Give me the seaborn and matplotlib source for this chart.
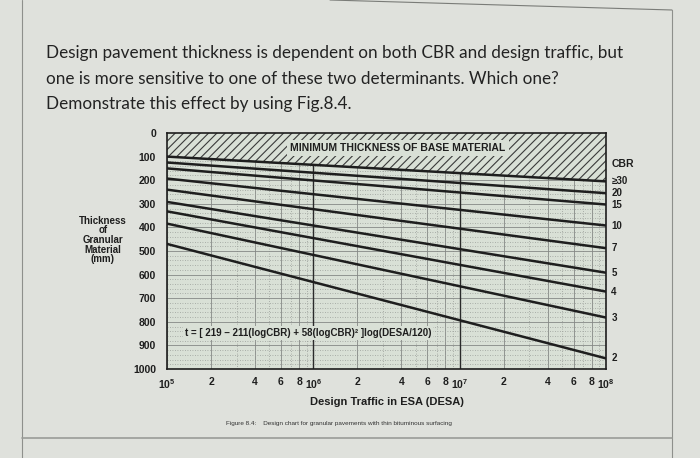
import numpy as np
import pandas as pd
import matplotlib.pyplot as plt
import matplotlib.transforms as mtransforms
from matplotlib.lines import Line2D
from matplotlib.ticker import FixedLocator, MultipleLocator, NullFormatter
import seaborn as sns

# thickness (mm) of each CBR line, read at the two ends of the chart
cbr_labels = ['≥30', '20', '15', '10', '7', '5', '4', '3', '2']
t_at_1e5 = [100, 125, 150, 193, 240, 292, 332, 384, 470]
t_at_1e8 = [205, 255, 303, 392, 488, 592, 672, 782, 955]
desa_ends = [1e5, 1e8]

y_ticks = [0, 100, 200, 300, 400, 500, 600, 700, 800, 900, 1000]
x_ticks = [1e5, 2e5, 4e5, 6e5, 8e5, 1e6, 2e6, 4e6, 6e6, 8e6, 1e7, 2e7, 4e7, 6e7, 8e7, 1e8]
x_tick_labels = ['$\\mathbf{10^5}$', '2', '4', '6', '8', '$\\mathbf{10^6}$', '2', '4', '6', '8',
                 '$\\mathbf{10^7}$', '2', '4', '6', '8', '$\\mathbf{10^8}$']
x_minor = [3e5, 5e5, 7e5, 9e5, 3e6, 5e6, 7e6, 9e6, 3e7, 5e7, 7e7, 9e7]
decades = [1e6, 1e7]

rows = []
for lab, a, b in zip(cbr_labels, t_at_1e5, t_at_1e8):
    rows.append({'DESA': desa_ends[0], 't': a, 'CBR': lab})
    rows.append({'DESA': desa_ends[1], 't': b, 'CBR': lab})
df = pd.DataFrame(rows)

sns.set_theme(style='white')
plt.rcParams['font.family'] = ['Liberation Sans', 'DejaVu Sans']
plt.rcParams['mathtext.fontset'] = 'custom'
plt.rcParams['mathtext.rm'] = 'Liberation Sans'
plt.rcParams['mathtext.bf'] = 'Liberation Sans:bold'
plt.rcParams['hatch.linewidth'] = 0.8

page = '#dfe1dc'
plot_bg = '#d9e0d6'
ink = '#1e1e1e'

fig = plt.figure(figsize=(7, 4.58), dpi=100, facecolor=page)
ax = fig.add_axes([167 / 700, 1 - 369 / 458, (606 - 167) / 700, (369 - 133) / 458])
ax.set_facecolor(plot_bg)

# hatched zone above the CBR>=30 line (covers the grid)
ax.fill_between(desa_ends, 0, [t_at_1e5[0], t_at_1e8[0]], facecolor=plot_bg,
                edgecolor='#3a3a3a', hatch='////', lw=0, zorder=3)

sns.lineplot(data=df, x='DESA', y='t', units='CBR', estimator=None,
             color=ink, lw=1.8, ax=ax, legend=False, zorder=4)

ax.set_xscale('log')
ax.set_xlim(1e5, 1e8)
ax.set_ylim(1000, 0)

ax.xaxis.set_major_locator(FixedLocator(x_ticks))
ax.xaxis.set_minor_locator(FixedLocator(x_minor))
ax.xaxis.set_minor_formatter(NullFormatter())
ax.set_xticklabels(x_tick_labels)
ax.yaxis.set_major_locator(FixedLocator(y_ticks))
ax.yaxis.set_minor_locator(MultipleLocator(20))

ax.grid(which='major', color='#858885', lw=0.6, zorder=0)
ax.grid(which='minor', color='#9a9e99', lw=0.6, ls=(0, (1, 2)), zorder=0)
ax.set_axisbelow(True)
for d in decades:
    ax.axvline(d, color='#2a2a2a', lw=1.0, zorder=2)

ax.tick_params(axis='both', which='both', length=0, colors=ink)
ax.tick_params(axis='y', pad=8, labelsize=7.5)
ax.tick_params(axis='x', pad=6, labelsize=7.5)
for lab in ax.get_xticklabels() + ax.get_yticklabels():
    lab.set_fontweight('bold')

for s in ax.spines.values():
    s.set_color(ink)
    s.set_linewidth(1.2)
    s.set_zorder(6)

ax.set_xlabel('Design Traffic in ESA (DESA)', fontsize=8, fontweight='bold', color=ink, labelpad=4)
ax.set_ylabel('')

ax.text(0.526, 0.935, 'MINIMUM THICKNESS OF BASE MATERIAL', transform=ax.transAxes,
        ha='center', va='center', fontsize=7.5, fontweight='bold', color=ink, zorder=5,
        bbox=dict(boxstyle='square,pad=0.3', fc=plot_bg, ec='none'))
ax.text(0.321, 0.152, 't = [ 219 – 211(logCBR) + 58(logCBR)² ]log(DESA/120)', transform=ax.transAxes,
        ha='center', va='center', fontsize=7, fontweight='bold', color=ink, zorder=5,
        bbox=dict(boxstyle='square,pad=0.2', fc=plot_bg, ec='none'))

# CBR labels at the right end of each line
tr = mtransforms.blended_transform_factory(ax.transAxes, ax.transData)
ax.text(1.012, 130, 'CBR', transform=tr, ha='left', va='center', fontsize=7.5,
        fontweight='bold', color=ink)
for lab, t in zip(cbr_labels, t_at_1e8):
    ax.text(1.012, t, lab, transform=tr, ha='left', va='center', fontsize=7,
            fontweight='bold', color=ink)

fig.text(103 / 700, 1 - 240 / 458, 'Thickness\nof\nGranular\nMaterial\n(mm)', ha='center',
         va='center', fontsize=7, fontweight='bold', color=ink, linespacing=0.95)

fig.text(226 / 700, 1 - 423 / 458,
         'Figure 8.4:    Design chart for granular pavements with thin bituminous surfacing',
         ha='left', va='center', fontsize=4.6, color='#333333',
         family=['Liberation Sans Narrow', 'Liberation Sans'])

question = ['Design pavement thickness is dependent on both CBR and design traffic, but',
            'one is more sensitive to one of these two determinants. Which one?',
            'Demonstrate this effect by using Fig.8.4.']
for i, line in enumerate(question):
    fig.text(46 / 700, 1 - (53 + 25.5 * i) / 458, line, ha='left', va='center',
             fontsize=12.3, color='#232323', family=['Lato', 'DejaVu Sans'])

# page frame of the screenshot
fig.add_artist(Line2D([22 / 700, 22 / 700], [0, 1], color='#8e908c', lw=0.8))
fig.add_artist(Line2D([672 / 700, 672 / 700], [0, 1 - 10 / 458], color='#8e908c', lw=0.8))
fig.add_artist(Line2D([330 / 700, 672 / 700], [1, 1 - 10 / 458], color='#7a7c78', lw=0.8))
fig.add_artist(Line2D([22 / 700, 672 / 700], [1 - 438 / 458, 1 - 438 / 458], color='#9a9c98', lw=1.2))

fig.savefig('out.png', dpi=100, facecolor=page)
